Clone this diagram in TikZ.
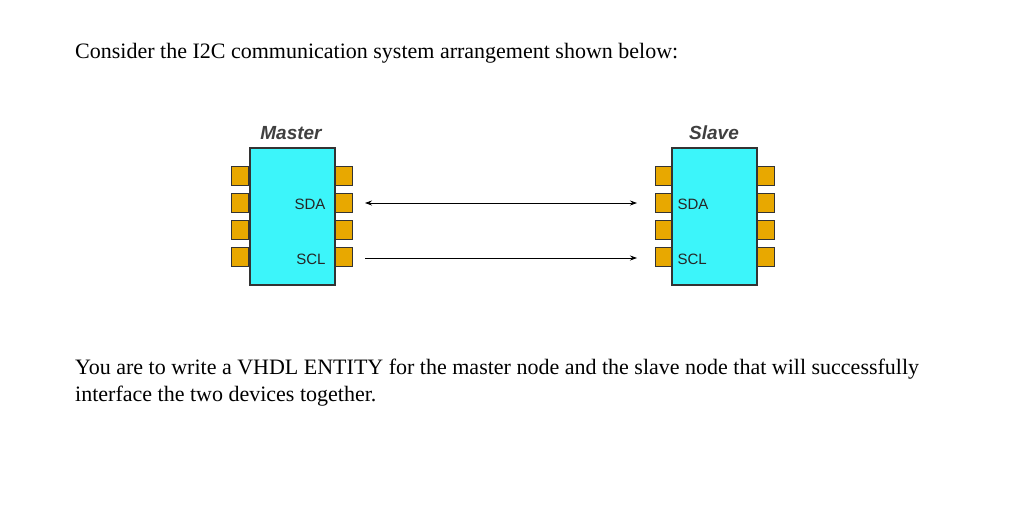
\documentclass[tikz,border=0pt]{standalone}
\usetikzlibrary{arrows.meta}
\usepackage{fontspec}
\setmainfont{Liberation Serif}
\newfontfamily\chipfont{Liberation Sans}
\definecolor{chip}{HTML}{3CF5FA}
\definecolor{pinc}{HTML}{E8A800}
\begin{document}
\begin{tikzpicture}[x=1pt,y=-1pt,
 body/.style={draw=black!80,line width=1.3pt,fill=chip},
 pin/.style={draw=black!80,line width=1.2pt,fill=pinc,minimum width=17pt,minimum height=19pt,inner sep=0pt},
 lbl/.style={font=\chipfont\fontsize{15}{17}\selectfont,text=black!85},
 ttl/.style={font=\chipfont\itshape\bfseries\fontsize{19}{21}\selectfont,text=black!75},
 txt/.style={font=\fontsize{22}{26}\selectfont,anchor=base west,inner sep=0pt},
 arr/.style={-{Stealth[length=7pt,width=5pt]},line width=0.8pt}]
\useasboundingbox (0,0) rectangle (1024,531);
\node[txt] (t1) at (75,58) {Consider the I2C communication system arrangement shown below:};
\node[txt] (t2) at (75,374) {You are to write a VHDL ENTITY for the master node and the slave node that will successfully};
\node[txt] (t3) at (75,401) {interface the two devices together.};
\foreach \i/\y in {1/176,2/203,3/230,4/257}{
 \node[pin] (ml\i) at (240,\y) {};
 \node[pin] (mr\i) at (344,\y) {};
 \node[pin] (sl\i) at (664,\y) {};
 \node[pin] (sr\i) at (766,\y) {};
}
\draw[body] (250,148) rectangle (335,285);
\draw[body] (672,148) rectangle (757,285);
\node[ttl] (mt) at (291,133) {Master};
\node[ttl] (st) at (714,133) {Slave};
\node[lbl,anchor=east] (msda) at (329,204) {SDA};
\node[lbl,anchor=east] (mscl) at (329,259) {SCL};
\node[lbl,anchor=west] (ssda) at (674,204) {SDA};
\node[lbl,anchor=west] (sscl) at (674,259) {SCL};
\coordinate (a1) at (365,203);
\coordinate (a2) at (637,203);
\coordinate (b1) at (365,258);
\coordinate (b2) at (637,258);
\draw[arr,{Stealth[length=7pt,width=5pt]}-{Stealth[length=7pt,width=5pt]}] (a1) -- (a2);
\draw[arr] (b1) -- (b2);
\end{tikzpicture}
\end{document}
